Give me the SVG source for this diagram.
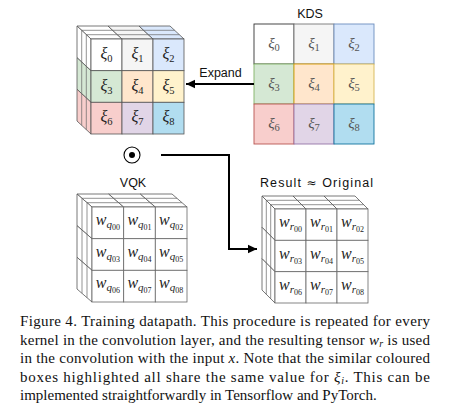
<svg xmlns="http://www.w3.org/2000/svg" width="451" height="417" viewBox="0 0 451 417">
<style>
.lbl{font-family:"Liberation Sans",Arial,sans-serif;font-size:12.5px;fill:#111}
.xi{font-family:"Liberation Serif","Times New Roman",serif;font-size:16px;font-style:italic;fill:#222}
.xik{font-family:"Liberation Serif","Times New Roman",serif;font-size:15px;font-style:italic;fill:#555}
.sub{font-style:normal;font-size:10.5px}
.w{font-family:"Liberation Serif","Times New Roman",serif;font-size:16px;font-style:italic;fill:#222}
.s1{font-size:11px}
.s2{font-size:8px;font-style:normal}
.cap{font-family:"Liberation Serif","Times New Roman",serif;font-size:15px;fill:#111}
.it{font-style:italic}
.cs{font-size:10px}
.gl{stroke:#555;stroke-width:0.8}
.gw{fill:#fff;stroke:#666;stroke-width:0.8}
.ln{stroke:#666;stroke-width:0.7;fill:none}
.c0{fill:#ffffff}.c1{fill:#f5f5f5}.c2{fill:#dae8fc}.c3{fill:#d5e8d4}.c4{fill:#ffe6cc}.c5{fill:#fff2cc}.c6{fill:#f8cecc}.c7{fill:#e1d5e7}.c8{fill:#b1ddf0}
.k0{stroke:#333}.k1{stroke:#777}.k2{stroke:#6c8ebf}.k3{stroke:#82b366}.k4{stroke:#d79b00}.k5{stroke:#d6b656}.k6{stroke:#b85450}.k7{stroke:#9673a6}.k8{stroke:#10739e}
.conn{stroke:#000;stroke-width:2;fill:none}
</style>
<defs>
<marker id="ah" markerUnits="userSpaceOnUse" markerWidth="10" markerHeight="10" refX="9" refY="5" orient="auto">
<path d="M0,0.8 L9,5 L0,9.2 Z" fill="#000"/>
</marker>
</defs>

<!-- Top-left expanded cube -->
<g id="expanded-cube">
<g class="gl">
<polygon class="c0" points="91,39 122,39 108,26 77,26"/>
<polygon class="c1" points="122,39 153,39 139,26 108,26"/>
<polygon class="c2" points="153,39 184,39 170,26 139,26"/>
<polygon class="c0" points="91,39 91,70.7 77,57.7 77,26"/>
<polygon class="c3" points="91,70.7 91,102.3 77,89.3 77,57.7"/>
<polygon class="c6" points="91,102.3 91,134 77,121 77,89.3"/>
</g>
<g class="ln">
<path d="M81.7,30.3 H174.7 M86.3,34.7 H179.3 M81.7,30.3 V125.3 M86.3,34.7 V129.7"/>
</g>
<g class="gl">
<rect class="c0" x="91" y="39" width="31" height="31.7"/>
<rect class="c1" x="122" y="39" width="31" height="31.7"/>
<rect class="c2" x="153" y="39" width="31" height="31.7"/>
<rect class="c3" x="91" y="70.7" width="31" height="31.6"/>
<rect class="c4" x="122" y="70.7" width="31" height="31.6"/>
<rect class="c5" x="153" y="70.7" width="31" height="31.6"/>
<rect class="c6" x="91" y="102.3" width="31" height="31.7"/>
<rect class="c7" x="122" y="102.3" width="31" height="31.7"/>
<rect class="c8" x="153" y="102.3" width="31" height="31.7"/>
</g>
<text class="xi" x="106.5" y="59" text-anchor="middle">ξ<tspan class="sub" dy="3">0</tspan></text>
<text class="xi" x="137.5" y="59" text-anchor="middle">ξ<tspan class="sub" dy="3">1</tspan></text>
<text class="xi" x="168.5" y="59" text-anchor="middle">ξ<tspan class="sub" dy="3">2</tspan></text>
<text class="xi" x="106.5" y="91" text-anchor="middle">ξ<tspan class="sub" dy="3">3</tspan></text>
<text class="xi" x="137.5" y="91" text-anchor="middle">ξ<tspan class="sub" dy="3">4</tspan></text>
<text class="xi" x="168.5" y="91" text-anchor="middle">ξ<tspan class="sub" dy="3">5</tspan></text>
<text class="xi" x="106.5" y="122" text-anchor="middle">ξ<tspan class="sub" dy="3">6</tspan></text>
<text class="xi" x="137.5" y="122" text-anchor="middle">ξ<tspan class="sub" dy="3">7</tspan></text>
<text class="xi" x="168.5" y="122" text-anchor="middle">ξ<tspan class="sub" dy="3">8</tspan></text>
</g>

<!-- KDS grid -->
<g id="kds">
<text class="lbl" x="310" y="18" text-anchor="middle" font-size="13">KDS</text>
<g stroke-width="0.9">
<rect class="c0 k0" x="254" y="24" width="40" height="40"/>
<rect class="c1 k1" x="294" y="24" width="40" height="40"/>
<rect class="c2 k2" x="334" y="24" width="40" height="40"/>
<rect class="c3 k3" x="254" y="64" width="40" height="40"/>
<rect class="c4 k4" x="294" y="64" width="40" height="40"/>
<rect class="c5 k5" x="334" y="64" width="40" height="40"/>
<rect class="c6 k6" x="254" y="104" width="40" height="40"/>
<rect class="c7 k7" x="294" y="104" width="40" height="40"/>
<rect class="c8 k8" x="334" y="104" width="40" height="40"/>
</g>
<text class="xik" x="274" y="48" text-anchor="middle">ξ<tspan class="sub" dy="3">0</tspan></text>
<text class="xik" x="314" y="48" text-anchor="middle">ξ<tspan class="sub" dy="3">1</tspan></text>
<text class="xik" x="354" y="48" text-anchor="middle">ξ<tspan class="sub" dy="3">2</tspan></text>
<text class="xik" x="274" y="88" text-anchor="middle">ξ<tspan class="sub" dy="3">3</tspan></text>
<text class="xik" x="314" y="88" text-anchor="middle">ξ<tspan class="sub" dy="3">4</tspan></text>
<text class="xik" x="354" y="88" text-anchor="middle">ξ<tspan class="sub" dy="3">5</tspan></text>
<text class="xik" x="274" y="128" text-anchor="middle">ξ<tspan class="sub" dy="3">6</tspan></text>
<text class="xik" x="314" y="128" text-anchor="middle">ξ<tspan class="sub" dy="3">7</tspan></text>
<text class="xik" x="354" y="128" text-anchor="middle">ξ<tspan class="sub" dy="3">8</tspan></text>
</g>

<!-- Hadamard product symbol -->
<g id="odot">
<circle cx="132" cy="155" r="8" fill="#fff" stroke="#000" stroke-width="1.1"/>
<circle cx="132" cy="155" r="3" fill="#000"/>
</g>

<!-- VQK cube -->
<g id="vqk">
<text class="lbl" x="133" y="187" text-anchor="middle" font-size="13">VQK</text>
<g class="gl" fill="#fff" stroke="#666">
<polygon points="92,207 123.7,207 108.7,194 77,194"/>
<polygon points="123.7,207 155.3,207 140.3,194 108.7,194"/>
<polygon points="155.3,207 187,207 172,194 140.3,194"/>
<polygon points="92,207 92,238.7 77,225.7 77,194"/>
<polygon points="92,238.7 92,270.3 77,257.3 77,225.7"/>
<polygon points="92,270.3 92,302 77,289 77,257.3"/>
</g>
<path class="ln" d="M82,198.3 H177 M87,202.7 H182 M82,198.3 V293.3 M87,202.7 V297.7"/>
<g class="gw">
<rect x="92" y="207" width="31.7" height="31.7"/>
<rect x="123.7" y="207" width="31.6" height="31.7"/>
<rect x="155.3" y="207" width="31.7" height="31.7"/>
<rect x="92" y="238.7" width="31.7" height="31.6"/>
<rect x="123.7" y="238.7" width="31.6" height="31.6"/>
<rect x="155.3" y="238.7" width="31.7" height="31.6"/>
<rect x="92" y="270.3" width="31.7" height="31.7"/>
<rect x="123.7" y="270.3" width="31.6" height="31.7"/>
<rect x="155.3" y="270.3" width="31.7" height="31.7"/>
</g>
<text class="w" x="107.8" y="225" text-anchor="middle">w<tspan class="s1" dy="3">q</tspan><tspan class="s2" dy="2">00</tspan></text>
<text class="w" x="139.5" y="225" text-anchor="middle">w<tspan class="s1" dy="3">q</tspan><tspan class="s2" dy="2">01</tspan></text>
<text class="w" x="171.2" y="225" text-anchor="middle">w<tspan class="s1" dy="3">q</tspan><tspan class="s2" dy="2">02</tspan></text>
<text class="w" x="107.8" y="257" text-anchor="middle">w<tspan class="s1" dy="3">q</tspan><tspan class="s2" dy="2">03</tspan></text>
<text class="w" x="139.5" y="257" text-anchor="middle">w<tspan class="s1" dy="3">q</tspan><tspan class="s2" dy="2">04</tspan></text>
<text class="w" x="171.2" y="257" text-anchor="middle">w<tspan class="s1" dy="3">q</tspan><tspan class="s2" dy="2">05</tspan></text>
<text class="w" x="107.8" y="288" text-anchor="middle">w<tspan class="s1" dy="3">q</tspan><tspan class="s2" dy="2">06</tspan></text>
<text class="w" x="139.5" y="288" text-anchor="middle">w<tspan class="s1" dy="3">q</tspan><tspan class="s2" dy="2">07</tspan></text>
<text class="w" x="171.2" y="288" text-anchor="middle">w<tspan class="s1" dy="3">q</tspan><tspan class="s2" dy="2">08</tspan></text>
</g>

<!-- Result cube -->
<g id="result">
<text class="lbl" x="260" y="187" font-size="13.5" textLength="113" lengthAdjust="spacing">Result <tspan font-family="'DejaVu Sans',sans-serif" font-size="12">≈</tspan> Original</text>
<g class="gl" fill="#fff" stroke="#666">
<polygon points="275,209 306,209 293,196 262,196"/>
<polygon points="306,209 337,209 324,196 293,196"/>
<polygon points="337,209 368,209 355,196 324,196"/>
<polygon points="275,209 275,240.3 262,227.3 262,196"/>
<polygon points="275,240.3 275,271.7 262,258.7 262,227.3"/>
<polygon points="275,271.7 275,303 262,290 262,258.7"/>
</g>
<path class="ln" d="M266.3,200.3 H359.3 M270.7,204.7 H363.7 M266.3,200.3 V294.3 M270.7,204.7 V298.7"/>
<g class="gw">
<rect x="275" y="209" width="31" height="31.3"/>
<rect x="306" y="209" width="31" height="31.3"/>
<rect x="337" y="209" width="31" height="31.3"/>
<rect x="275" y="240.3" width="31" height="31.4"/>
<rect x="306" y="240.3" width="31" height="31.4"/>
<rect x="337" y="240.3" width="31" height="31.4"/>
<rect x="275" y="271.7" width="31" height="31.3"/>
<rect x="306" y="271.7" width="31" height="31.3"/>
<rect x="337" y="271.7" width="31" height="31.3"/>
</g>
<text class="w" x="290.5" y="227" text-anchor="middle">w<tspan class="s1" dy="3">r</tspan><tspan class="s2" dy="2">00</tspan></text>
<text class="w" x="321.5" y="227" text-anchor="middle">w<tspan class="s1" dy="3">r</tspan><tspan class="s2" dy="2">01</tspan></text>
<text class="w" x="352.5" y="227" text-anchor="middle">w<tspan class="s1" dy="3">r</tspan><tspan class="s2" dy="2">02</tspan></text>
<text class="w" x="290.5" y="258.5" text-anchor="middle">w<tspan class="s1" dy="3">r</tspan><tspan class="s2" dy="2">03</tspan></text>
<text class="w" x="321.5" y="258.5" text-anchor="middle">w<tspan class="s1" dy="3">r</tspan><tspan class="s2" dy="2">04</tspan></text>
<text class="w" x="352.5" y="258.5" text-anchor="middle">w<tspan class="s1" dy="3">r</tspan><tspan class="s2" dy="2">05</tspan></text>
<text class="w" x="290.5" y="290" text-anchor="middle">w<tspan class="s1" dy="3">r</tspan><tspan class="s2" dy="2">06</tspan></text>
<text class="w" x="321.5" y="290" text-anchor="middle">w<tspan class="s1" dy="3">r</tspan><tspan class="s2" dy="2">07</tspan></text>
<text class="w" x="352.5" y="290" text-anchor="middle">w<tspan class="s1" dy="3">r</tspan><tspan class="s2" dy="2">08</tspan></text>
</g>

<!-- Connectors -->
<g id="connectors">
<path class="conn" d="M254,84 H186" marker-end="url(#ah)"/>
<text class="lbl" x="220.5" y="77" text-anchor="middle" font-size="13.5">Expand</text>
<path class="conn" d="M161,155 H229 V249 H257" marker-end="url(#ah)"/>
</g>

<!-- Caption -->
<g id="caption">
<text class="cap" x="20" y="326" textLength="410" lengthAdjust="spacing">Figure 4. Training datapath. This procedure is repeated for every</text>
<text class="cap" x="20" y="344.5" textLength="410" lengthAdjust="spacing">kernel in the convolution layer, and the resulting tensor <tspan class="it">w</tspan><tspan class="it cs" dy="2">r</tspan><tspan dy="-2"> is used</tspan></text>
<text class="cap" x="20" y="363" textLength="410" lengthAdjust="spacing">in the convolution with the input <tspan class="it">x</tspan>. Note that the similar coloured</text>
<text class="cap" x="20" y="381.5" textLength="410" lengthAdjust="spacing">boxes highlighted all share the same value for <tspan class="it">ξ</tspan><tspan class="it cs" dy="2">i</tspan><tspan dy="-2">.  This can be</tspan></text>
<text class="cap" x="20" y="400">implemented straightforwardly in Tensorflow and PyTorch.</text>
</g>
</svg>
